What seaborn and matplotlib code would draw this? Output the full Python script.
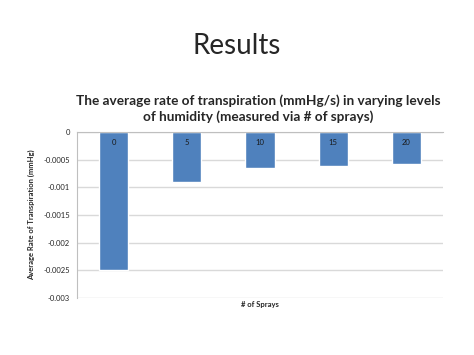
'''
Transpiration rate vs humidity (# of sprays), slide-style bar chart.
'''

# imports
import numpy as np
import pandas as pd
import seaborn as sns
import matplotlib.pyplot as plt
from matplotlib.ticker import FixedLocator

# data
sprays = ["0", "5", "10", "15", "20"]
rates = [-0.0025, -0.0009, -0.00065, -0.00061, -0.00058]
yticks = [0, -0.0005, -0.001, -0.0015, -0.002, -0.0025, -0.003]
ytick_labels = ["0", "-0.0005", "-0.001", "-0.0015", "-0.002", "-0.0025", "-0.003"]

## plot setup
bar_col = "#4f81bd"
grid_col = "#d9d9d9"
text_dct = {'slide': 20, 'title': 9.8, 'label': 5.5, 'tick': 5.5}

sns.set_style("white")
plt.rcParams['font.family'] = ['Lato', 'DejaVu Sans']

df = pd.DataFrame({'sprays': sprays, 'rate': rates})

fig = plt.figure(figsize = (4.74, 3.55), dpi = 100)
ax = fig.add_axes([0.1624, 0.1606, 0.7722, 0.4676])

sns.barplot(data = df, x = 'sprays', y = 'rate', color = bar_col,
            width = 0.4, saturation = 1, ax = ax)

# axes
ax.set_ylim(-0.003, 0)
ax.set_xlim(-0.5, len(sprays) - 0.5)
ax.set_yticks(yticks)
ax.set_yticklabels(ytick_labels)
ax.yaxis.grid(True, color = grid_col, linewidth = 1)
ax.set_axisbelow(True)
ax.xaxis.set_zorder(3)  # category labels sit inside the bars

for s in ['top', 'right']:
    ax.spines[s].set_visible(False)
ax.spines['left'].set_color('#bfbfbf')
ax.spines['bottom'].set_position(('data', 0))
ax.spines['bottom'].set_color('#bfbfbf')
ax.spines['bottom'].set_zorder(3)

ax.tick_params(axis = 'x', which = 'major', length = 0, pad = 5,
               labelsize = text_dct.get('tick'), labelcolor = '#1a1a1a')
ax.xaxis.set_minor_locator(FixedLocator(np.arange(-0.5, len(sprays), 1)))
ax.tick_params(axis = 'x', which = 'minor', direction = 'in', length = 3,
               color = '#bfbfbf')
ax.tick_params(axis = 'y', length = 3, color = '#bfbfbf',
               labelsize = text_dct.get('tick'), pad = 2)

ax.set_xlabel('')
ax.set_ylabel('Average Rate of Transpiration (mmHg)', fontweight = 'bold',
              size = text_dct.get('label'), labelpad = 6)

# texts
fig.text(0.5, 0.87, 'Results', ha = 'center', va = 'center',
         size = text_dct.get('slide'))
fig.text(0.545, 0.695, 'The average rate of transpiration (mmHg/s) in varying levels\nof humidity (measured via # of sprays)',
         ha = 'center', va = 'center', fontweight = 'bold',
         size = text_dct.get('title'), linespacing = 1.3)
fig.text(0.548, 0.143, '# of Sprays', ha = 'center', va = 'center',
         fontweight = 'bold', size = text_dct.get('label'))

plt.savefig('out.png', dpi = 100)
